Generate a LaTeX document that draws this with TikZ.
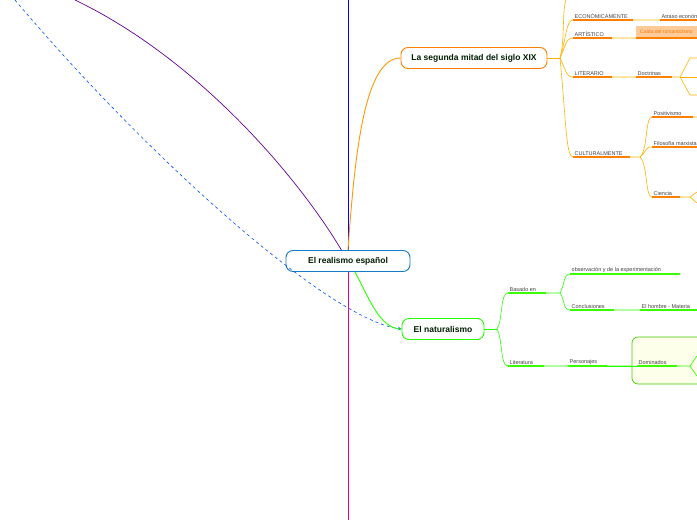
\documentclass[tikz,border=0pt]{standalone}
\usepackage{fontspec}
\setmainfont{Liberation Sans}
\begin{document}
\begin{tikzpicture}[x=1pt,y=-1pt,
  main/.style={draw=#1,rounded corners=7pt,line width=0.9pt,fill=white,font=\fontsize{8.5}{9}\selectfont\bfseries,text=black!80!green!60!black,minimum height=21pt,inner xsep=4pt},
  lbl/.style={font=\fontsize{5.5}{6}\selectfont,text=black!75,anchor=south west,inner sep=1.5pt},
  ol/.style={orange!60!yellow,line width=0.6pt},
  ou/.style={orange,line width=1.3pt},
  gl/.style={green!80!lime,line width=0.6pt},
  gu/.style={green!70!lime,line width=1.3pt}]
\useasboundingbox (0,0) rectangle (697,520);
% long lines
\draw[blue,line width=0.9pt] (348,0) -- (348,250);
\draw[magenta,line width=0.9pt] (348,272) -- (348,520);
\draw[violet!80!blue,line width=0.7pt] (75,0) .. controls (200,60) and (300,180) .. (342,251);
\node[main=cyan!60!blue,minimum width=124pt] (c) at (348,261) {El realismo español};
\node[main=orange,minimum width=146pt] (s) at (474,58) {La segunda mitad del siglo XIX};
\node[main=green!80!lime,minimum width=82pt] (n) at (443,329) {El naturalismo};
\coordinate (d0) at (15,0);
\draw[blue!70!cyan,dashed,line width=0.6pt,-stealth] (d0) .. controls (150,160) and (330,320) .. (n.west);
\draw[orange!80!yellow,line width=0.9pt] (c.north) .. controls (355,150) and (365,58) .. (s.west);
\draw[green!80!lime,line width=0.9pt] (355,272) .. controls (370,300) and (380,329) .. (n.west);
% orange branches
\coordinate (sb) at (560,58);
\draw[ol] (s.east) -- (sb);
\draw[ol] (sb) .. controls (565,40) and (562,10) .. (566,0);
\draw[ol] (sb) .. controls (566,40) and (566,20) .. (573,20) -- (660,20);
\draw[ou] (573,20) -- (633,20); \node[lbl] at (573,20) {ECONÓMICAMENTE};
\draw[ou] (660,20) -- (697,20); \node[lbl] at (660,20) {Atraso económico};
\draw[ol] (sb) .. controls (566,45) and (566,38) .. (573,38) -- (697,38);
\draw[ou] (573,38) -- (612,38); \node[lbl] at (573,38) {ARTÍSTICO};
\fill[orange!40!white] (636,26) rectangle (697,37.5);
\node[font=\fontsize{5}{6}\selectfont,text=orange!90!red,anchor=west,inner sep=1pt] at (639,32) {Caída del romanticismo};
\draw[ou] (636,38) -- (697,38);
\draw[ol] (sb) .. controls (566,70) and (566,77) .. (573,77) -- (680,77);
\draw[ou] (573,77) -- (612,77); \node[lbl] at (573,77) {LITERARIO};
\draw[ou] (636,77) -- (672,77); \node[lbl] at (636,77) {Doctrinas};
\draw[ol] (680,77) -- (690,58) -- (697,58);
\draw[ol] (680,77) -- (697,77);
\draw[ol] (680,77) -- (690,95) -- (697,95);
\draw[ol] (sb) .. controls (566,120) and (566,157) .. (573,157) -- (640,157);
\draw[ou] (573,157) -- (630,157); \node[lbl] at (573,157) {CULTURALMENTE};
\draw[ol] (640,157) .. controls (648,150) and (645,117) .. (652,117) -- (697,117);
\draw[ou] (652,117) -- (693,117); \node[lbl] at (652,117) {Positivismo};
\draw[ol] (640,157) .. controls (648,150) and (645,147) .. (652,147) -- (697,147);
\draw[ou] (652,147) -- (697,147); \node[lbl] at (652,147) {Filosofía marxista};
\draw[ol] (640,157) .. controls (648,165) and (645,197) .. (652,197) -- (690,197);
\draw[ou] (652,197) -- (680,197); \node[lbl] at (652,197) {Ciencia};
\draw[ol] (690,197) -- (697,192); \draw[ol] (690,197) -- (697,203);
% green branches
\coordinate (nb) at (497,329);
\draw[gl] (n.east) -- (nb);
\draw[gl] (nb) .. controls (503,320) and (500,293) .. (508,293) -- (560,293);
\draw[gu] (508,293) -- (546,293); \node[lbl] at (508,293) {Basado en};
\draw[gl] (560,293) .. controls (565,285) and (563,274) .. (570,274);
\draw[gu] (570,274) -- (680,274); \node[lbl] at (570,274) {observación y de la experimentación};
\draw[gl] (560,293) .. controls (565,300) and (563,310) .. (570,310) -- (697,310);
\draw[gu] (570,310) -- (614,310); \node[lbl] at (570,310) {Conclusiones};
\draw[gu] (640,310) -- (697,310); \node[lbl] at (640,310) {El hombre - Materia};
\draw[gl] (nb) .. controls (503,340) and (500,366) .. (508,366) -- (640,366);
\draw[gu] (508,366) -- (544,366); \node[lbl] at (508,366) {Literatura};
\draw[gu] (568,366) -- (607,366); \node[lbl] at (568,366) {Personajes};
\draw[green!60!lime!80!black,fill=green!5!yellow!8!white,rounded corners=6pt,line width=0.7pt] (632,337) rectangle (710,384);
\draw[gl] (607,366) -- (637,366);
\draw[gu] (637,366) -- (677,366); \node[lbl] at (637,366) {Dominados};
\draw[gl] (677,366) -- (690,366) -- (697,356); \draw[gl] (690,366) -- (697,376);
\end{tikzpicture}
\end{document}
